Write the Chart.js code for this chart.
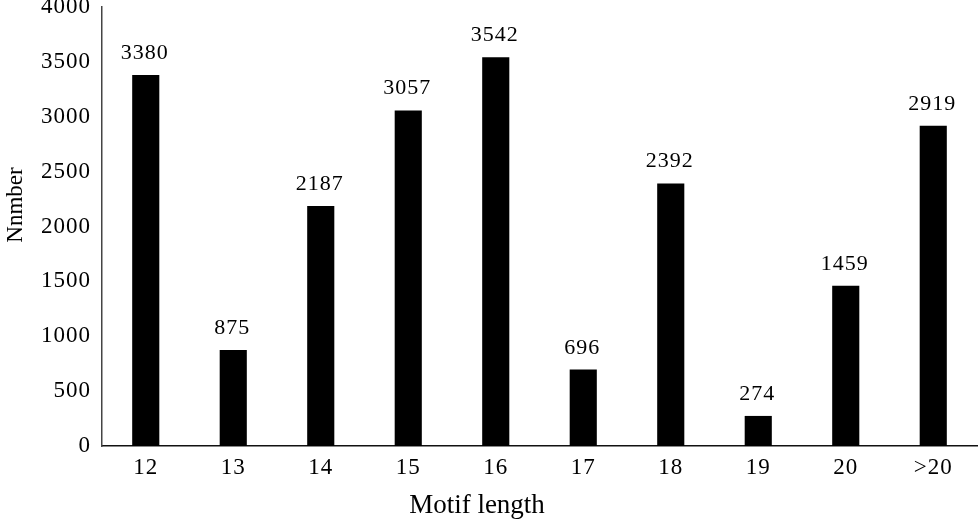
<!DOCTYPE html>
<html>
<head>
<meta charset="utf-8">
<script src="https://cdn.jsdelivr.net/npm/chart.js@4"></script>
<style>
html,body{margin:0;padding:0;background:#fff;}
#wrap{width:980px;height:521px;}
</style>
</head>
<body>
<div id="wrap"><canvas id="c" width="980" height="521"></canvas></div>
<script>
const categories = ['12','13','14','15','16','17','18','19','20','>20'];
const counts = [3380, 875, 2187, 3057, 3542, 696, 2392, 274, 1459, 2919];
const yTicks = [0,500,1000,1500,2000,2500,3000,3500,4000];
const xTitle = 'Motif length';
const yTitle = 'Nnmber';

const FONT = '"Liberation Serif", "Times New Roman", serif';

const spacingPlugin = {
  id: 'spacing',
  beforeDraw(chart) { chart.ctx.letterSpacing = '1px'; }
};

const labelPlugin = {
  id: 'valueLabels',
  afterDatasetsDraw(chart) {
    const ctx = chart.ctx;
    const meta = chart.getDatasetMeta(0);
    ctx.save();
    ctx.letterSpacing = '1px';
    ctx.font = '22px ' + FONT;
    ctx.fillStyle = '#000';
    ctx.textAlign = 'center';
    ctx.textBaseline = 'alphabetic';
    meta.data.forEach((bar, i) => {
      ctx.fillText(String(counts[i]), bar.x - 1, bar.y - 16);
    });
    // axis titles
    ctx.letterSpacing = '0px';
    ctx.font = '27px ' + FONT;
    ctx.fillText(xTitle, 477, 513);
    ctx.translate(22, 205);
    ctx.rotate(-Math.PI / 2);
    ctx.font = '23px ' + FONT;
    ctx.textAlign = 'center';
    ctx.fillText(yTitle, 0, 0);
    ctx.restore();
  }
};

new Chart(document.getElementById('c'), {
  type: 'bar',
  data: {
    labels: categories,
    datasets: [{
      data: counts,
      backgroundColor: '#000',
      borderWidth: 0,
      categoryPercentage: 1,
      barPercentage: 0.31
    }]
  },
  options: {
    responsive: false,
    animation: false,
    devicePixelRatio: 1,
    layout: { padding: { left: 0, right: 3, top: 7, bottom: 0 } },
    plugins: { legend: { display: false }, tooltip: { enabled: false } },
    scales: {
      x: {
        grid: { display: false, drawTicks: false },
        border: { display: true, color: '#111', width: 1.5 },
        ticks: { color: '#000', font: { family: FONT, size: 23 }, padding: 8, maxRotation: 0 },
        afterFit(s) { s.height = 75; s.paddingLeft = 0; s.paddingRight = 0; }
      },
      y: {
        min: 0, max: 4000,
        grid: { display: false, drawTicks: false },
        border: { display: true, color: '#444', width: 1.5 },
        afterBuildTicks(s) { s.ticks = yTicks.map(v => ({ value: v })); },
        ticks: { color: '#000', font: { family: FONT, size: 23 }, padding: 11, callback: (v) => String(v) },
        afterFit(s) { s.width = 102; s.paddingTop = 0; s.paddingBottom = 0; }
      }
    }
  },
  plugins: [spacingPlugin, labelPlugin]
});
</script>
</body>
</html>
